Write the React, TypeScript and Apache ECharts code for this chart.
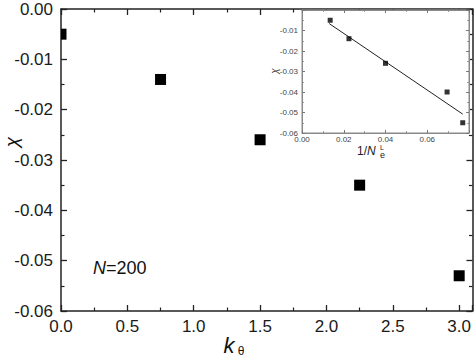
import React, { useEffect, useRef } from "react";
import * as echarts from "echarts";

// Main plot: chi vs k_theta
const kTheta = [0, 0.75, 1.5, 2.25, 3.0];
const chiMain = [-0.005, -0.014, -0.026, -0.035, -0.053];

// Inset: chi vs 1/N_e^L
const invNe = [0.0135, 0.0225, 0.040, 0.0695, 0.077];
const chiInset = [-0.005, -0.014, -0.026, -0.040, -0.055];
// Linear fit end points
const fitX = [0.013, 0.077];
const fitY = [-0.0066, -0.0508];

const mainXTicks = ["0.0", "0.5", "1.0", "1.5", "2.0", "2.5", "3.0"];
const mainYTicks = ["0.00", "-0.01", "-0.02", "-0.03", "-0.04", "-0.05", "-0.06"];

const FONT = "'Liberation Sans', Arial, Helvetica, sans-serif";

export default function App() {
  const ref = useRef<HTMLDivElement>(null);
  useEffect(() => {
    if (!ref.current) return;
    const chart = echarts.init(ref.current, null, { renderer: "svg" });

    const mainAxisLine = () => ({ show: true, onZero: false, lineStyle: { color: "#222", width: 1.5 } });
    const mainTick = () => ({ show: true, inside: true, length: 6, lineStyle: { color: "#222", width: 1.3 } });
    const mainMinor = () => ({ show: true, splitNumber: 2, length: 3.5, lineStyle: { color: "#222", width: 1.2 } });

    const inAxisLine = () => ({ show: true, onZero: false, lineStyle: { color: "#8a8a8a", width: 1 } });
    const inTick = () => ({ show: true, inside: true, length: 3, lineStyle: { color: "#777", width: 1 } });
    const inMinor = () => ({ show: true, splitNumber: 2, length: 2, lineStyle: { color: "#888", width: 0.8 } });

    const mainData = kTheta.map((x, i) => [x, chiMain[i]]);
    const insetData = invNe.map((x, i) => [x, chiInset[i]]);
    const fitData = fitX.map((x, i) => [x, fitY[i]]);

    const option: any = {
      animation: false,
      backgroundColor: "#fff",
      textStyle: { fontFamily: FONT },
      grid: [
        { left: 61, top: 9, width: 412, height: 302, show: false },
        {
          left: 302, top: 10, width: 167, height: 123, show: true,
          backgroundColor: "#fff", borderColor: "#8a8a8a", borderWidth: 1, z: 10,
        },
      ],
      xAxis: [
        {
          type: "value", gridIndex: 0, position: "bottom", min: 0, max: 3.1, interval: 0.5,
          axisLine: mainAxisLine(), axisTick: mainTick(), minorTick: mainMinor(),
          splitLine: { show: false },
          axisLabel: {
            show: true, showMaxLabel: false, margin: 7, fontSize: 17, color: "#1a1a1a", fontFamily: FONT,
            formatter: (v: number) => mainXTicks[Math.round(v / 0.5)] ?? "",
          },
        },
        {
          type: "value", gridIndex: 0, position: "top", min: 0, max: 3.1, interval: 0.5,
          axisLine: mainAxisLine(), axisTick: mainTick(), minorTick: mainMinor(),
          splitLine: { show: false }, axisLabel: { show: false },
        },
        {
          type: "value", gridIndex: 1, position: "bottom", min: 0, max: 0.08, interval: 0.02, z: 11,
          axisLine: inAxisLine(), axisTick: inTick(), minorTick: inMinor(),
          splitLine: { show: false },
          axisLabel: {
            show: true, showMaxLabel: false, margin: 2, fontSize: 8, color: "#444", fontFamily: FONT,
            formatter: (v: number) => v.toFixed(2),
          },
        },
        {
          type: "value", gridIndex: 1, position: "top", min: 0, max: 0.08, interval: 0.02, z: 11,
          axisLine: inAxisLine(), axisTick: inTick(), minorTick: inMinor(),
          splitLine: { show: false }, axisLabel: { show: false },
        },
      ],
      yAxis: [
        {
          type: "value", gridIndex: 0, position: "left", min: -0.06, max: 0, interval: 0.01,
          axisLine: mainAxisLine(), axisTick: mainTick(), minorTick: mainMinor(),
          splitLine: { show: false },
          axisLabel: {
            show: true, margin: 8, fontSize: 17, color: "#1a1a1a", fontFamily: FONT,
            formatter: (v: number) => mainYTicks[Math.round(-v / 0.01)] ?? "",
          },
        },
        {
          type: "value", gridIndex: 0, position: "right", min: -0.06, max: 0, interval: 0.01,
          axisLine: mainAxisLine(), axisTick: mainTick(), minorTick: mainMinor(),
          splitLine: { show: false }, axisLabel: { show: false },
        },
        {
          type: "value", gridIndex: 1, position: "left", min: -0.06, max: 0, interval: 0.01, z: 11,
          axisLine: inAxisLine(), axisTick: inTick(), minorTick: inMinor(),
          splitLine: { show: false },
          axisLabel: {
            show: true, showMaxLabel: false, margin: 4, fontSize: 8, color: "#444", fontFamily: FONT,
            formatter: (v: number) => v.toFixed(2),
          },
        },
        {
          type: "value", gridIndex: 1, position: "right", min: -0.06, max: 0, interval: 0.01, z: 11,
          axisLine: inAxisLine(), axisTick: inTick(), minorTick: inMinor(),
          splitLine: { show: false }, axisLabel: { show: false },
        },
      ],
      series: [
        {
          type: "custom",
          xAxisIndex: 0, yAxisIndex: 0,
          data: mainData,
          renderItem: (params: any, api: any) => {
            const p = api.coord([api.value(0), api.value(1)]);
            const s = 11;
            const cs = params.coordSys;
            const r = echarts.graphic.clipRectByRect(
              { x: p[0] - s / 2, y: p[1] - s / 2, width: s, height: s },
              { x: cs.x, y: cs.y, width: cs.width, height: cs.height }
            );
            if (!r) return null;
            return { type: "rect", shape: r, style: { fill: "#000" } };
          },
          z: 2,
        },
        {
          type: "line",
          xAxisIndex: 2, yAxisIndex: 2,
          data: fitData,
          showSymbol: false,
          lineStyle: { color: "#222", width: 1 },
          z: 12,
        },
        {
          type: "scatter",
          xAxisIndex: 2, yAxisIndex: 2,
          data: insetData,
          symbol: "rect",
          symbolSize: 5,
          itemStyle: { color: "#000" },
          z: 13,
        },
      ],
      graphic: [
        {
          type: "text", x: 93, y: 268, z: 20,
          style: {
            text: "{i|N}=200",
            font: `18px ${FONT}`,
            fill: "#111",
            verticalAlign: "middle",
            rich: { i: { fontStyle: "italic", fontSize: 18, fontFamily: FONT, fill: "#111" } },
          },
        },
        {
          type: "text", x: 229, y: 345, z: 20,
          style: { text: "k", font: `italic 22px ${FONT}`, fill: "#111", align: "center", verticalAlign: "middle" },
        },
        {
          type: "text", x: 241, y: 351, z: 20,
          style: { text: "θ", font: `12px ${FONT}`, fill: "#111", align: "center", verticalAlign: "middle" },
        },
        {
          type: "text", x: 11, y: 142, z: 20, rotation: Math.PI / 2,
          style: { text: "χ", font: `italic 19px ${FONT}`, fill: "#111", align: "center", verticalAlign: "middle" },
        },
        {
          type: "text", x: 274, y: 71, z: 20, rotation: Math.PI / 2,
          style: { text: "χ", font: `italic 10px ${FONT}`, fill: "#333", align: "center", verticalAlign: "middle" },
        },
        {
          type: "text", x: 357, y: 151, z: 20,
          style: {
            text: "1/{i|N}",
            font: `12px ${FONT}`, fill: "#222", verticalAlign: "middle",
            rich: { i: { fontStyle: "italic", fontSize: 12, fontFamily: FONT, fill: "#222" } },
          },
        },
        {
          type: "text", x: 380, y: 155, z: 20,
          style: { text: "e", font: `9px ${FONT}`, fill: "#222", verticalAlign: "middle" },
        },
        {
          type: "text", x: 380, y: 147.5, z: 20,
          style: { text: "L", font: `7px ${FONT}`, fill: "#222", verticalAlign: "middle" },
        },
      ],
    };

    chart.setOption(option);
    return () => chart.dispose();
  }, []);

  return (
    <div
      ref={ref}
      style={{ position: "fixed", left: 0, top: 0, width: 474, height: 357, background: "#fff" }}
    />
  );
}
